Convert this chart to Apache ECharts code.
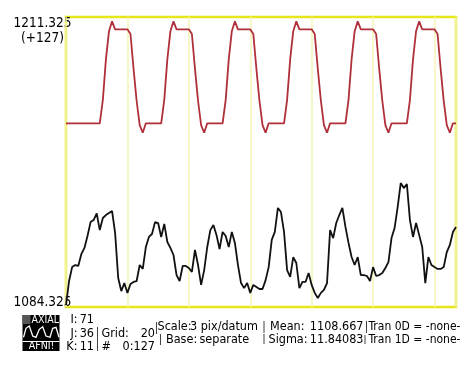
<!DOCTYPE html>
<html><head><meta charset="utf-8">
<script src="https://cdn.jsdelivr.net/npm/echarts@6/dist/echarts.min.js"></script>
<style>html,body{margin:0;padding:0;background:#fff}#c{width:474px;height:372px}</style>
</head><body><div id="c"></div>
<script>
const FONT = '"DejaVu Sans Condensed", "DejaVu Sans", sans-serif';

// voxel time series (data units), time index 0..127
const voxelValues = [
 1085.2,1095.7,1101.8,1102.7,1102.3,1107.5,1110.2,1115.4,1121.5,1122.4,
 1125.3,1118.0,1123.3,1124.6,1125.5,1126.4,1116.7,1097.0,1091.3,1094.8,
 1090.5,1094.4,1095.3,1095.7,1102.7,1101.0,1110.6,1115.0,1116.3,1121.5,
 1121.1,1115.0,1120.7,1112.8,1110.2,1107.1,1098.3,1095.7,1102.3,1102.3,
 1101.4,1099.7,1109.3,1102.7,1094.0,1100.5,1110.6,1118.0,1120.2,1115.9,
 1109.7,1117.2,1115.4,1110.6,1117.2,1112.4,1102.7,1094.8,1092.6,1094.8,
 1090.5,1094.0,1093.1,1092.2,1092.2,1096.1,1101.8,1113.7,1117.2,1127.7,
 1125.9,1117.2,1100.5,1097.5,1106.2,1103.6,1092.6,1095.3,1095.3,1099.2,
 1094.0,1090.5,1088.3,1090.5,1091.8,1094.8,1118.0,1114.5,1121.1,1124.6,
 1127.7,1119.4,1112.4,1106.2,1102.7,1106.2,1098.3,1098.3,1097.9,1095.7,
 1101.8,1097.9,1098.3,1099.2,1101.4,1104.0,1114.5,1118.9,1128.1,1138.6,
 1136.4,1138.2,1122.4,1115.0,1121.1,1115.9,1110.6,1094.8,1106.2,1102.7,
 1101.8,1101.0,1101.0,1101.8,1108.4,1111.5,1117.2,1119.4
];

// ideal (reference) response, separate baseline
const idealValues = [
 0,0,0,0,0,0,0,0,0,0,0,0,
 0.25,0.68,0.98,1.085,1,1,1,1,1,0.95,0.58,0.24,-0.02,-0.1,0,0,0,0,0,0,
 0.25,0.68,0.98,1.085,1,1,1,1,1,0.95,0.58,0.24,-0.02,-0.1,0,0,0,0,0,0,
 0.25,0.68,0.98,1.085,1,1,1,1,1,0.95,0.58,0.24,-0.02,-0.1,0,0,0,0,0,0,
 0.25,0.68,0.98,1.085,1,1,1,1,1,0.95,0.58,0.24,-0.02,-0.1,0,0,0,0,0,0,
 0.25,0.68,0.98,1.085,1,1,1,1,1,0.95,0.58,0.24,-0.02,-0.1,0,0,0,0,0,0,
 0.25,0.68,0.98,1.085,1,1,1,1,1,0.95,0.58,0.24,-0.02,-0.1,0,0
];

const yMin = 1084.325, yMax = 1211.325;
const yLabels = ['1211.325', '(+127)', '1084.325'];
const gridEvery = 20;
const lastIndex = 127;
const coordLabels = [['I:', '71'], ['J:', '36'], ['K:', '11']];
const gridInfo = [['Grid:', '20'], ['#', '0:127']];
const scaleInfo = [['Scale:', '3 pix/datum'], ['Base:', 'separate']];
const statInfo = [['Mean:', '1108.667'], ['Sigma:', '11.84083']];
const tranInfo = ['Tran 0D = -none-', 'Tran 1D = -none-'];

const voxelData = voxelValues.map((v, i) => [i, v]);
const idealData = idealValues.map((v, i) => [i, v]);

function txt(x, y, s, align, size, fill) {
  return {
    type: 'text', x: x, y: y, silent: true,
    style: { text: s, fill: fill || '#000', font: (size || 12.5) + 'px ' + FONT, textAlign: align || 'left', textVerticalAlign: 'middle' }
  };
}
function vline(x, y1, y2) {
  return { type: 'line', silent: true, shape: { x1: x, y1: y1, x2: x, y2: y2 }, style: { stroke: '#444', lineWidth: 1 } };
}

const chart = echarts.init(document.getElementById('c'), null, { renderer: 'canvas' });
const rowsA = [320, 333.3, 346.7];
const rowsB = [326.7, 340];
const g = [];
// y range labels
g.push(txt(42.5, 23, yLabels[0], 'center', 13.5));
g.push(txt(42.5, 38.5, yLabels[1], 'center', 13.5));
g.push(txt(42.5, 302, yLabels[2], 'center', 13.5));
// coordinates
coordLabels.forEach((p, k) => {
  g.push(txt(77.5, rowsA[k], p[0], 'right'));
  g.push(txt(94, rowsA[k], p[1], 'right'));
});
g.push(vline(97.5, 327, 351));
gridInfo.forEach((p, k) => {
  g.push(txt(101.5, rowsA[k + 1], p[0], 'left'));
  g.push(txt(155, rowsA[k + 1], p[1], 'right'));
});
g.push(vline(156.5, 322, 334));
g.push(vline(160.5, 334, 345));
g.push(txt(157.5, rowsB[0], scaleInfo[0][0], 'left'));
g.push(txt(190, rowsB[0], scaleInfo[0][1], 'left'));
g.push(txt(166, rowsB[1], scaleInfo[1][0], 'left'));
g.push(txt(199.5, rowsB[1], scaleInfo[1][1], 'left'));
g.push(vline(264, 321, 333));
g.push(vline(264, 334, 344));
g.push(txt(270, rowsB[0], statInfo[0][0], 'left'));
g.push(txt(363.5, rowsB[0], statInfo[0][1], 'right'));
g.push(txt(268.5, rowsB[1], statInfo[1][0], 'left'));
g.push(txt(363.5, rowsB[1], statInfo[1][1], 'right'));
g.push(vline(366.5, 321, 333));
g.push(vline(365, 335, 344));
g.push(txt(368.5, rowsB[0], tranInfo[0], 'left', 12));
g.push(txt(368.5, rowsB[1], tranInfo[1], 'left', 12));
// AFNI logo
g.push({ type: 'rect', silent: true, shape: { x: 22.5, y: 315, width: 37, height: 36 }, style: { fill: '#000' } });
g.push({ type: 'rect', silent: true, shape: { x: 22.5, y: 315, width: 8, height: 9 }, style: { fill: '#555' } });
g.push(txt(59, 319.8, 'AXIAL', 'right', 10.5, '#fff'));
g.push({ type: 'polyline', silent: true, shape: { points: [[23.5,337.3],[26,328.3],[29.3,326],[32.7,336],[36,337.3],[39.3,329.3],[42.7,326.7],[46,336],[50,337.3],[52.7,328.3],[56,327.3],[59,337.3]] }, style: { stroke: '#fff', lineWidth: 1.3, fill: null } });
g.push({ type: 'line', silent: true, shape: { x1: 22.5, y1: 341.5, x2: 59.5, y2: 341.5 }, style: { stroke: '#fff', lineWidth: 1 } });
g.push(txt(41.5, 346.5, 'AFNI!', 'center', 10.5, '#fff'));

chart.setOption({
  animation: false,
  backgroundColor: '#fff',
  grid: { left: 66, right: 18, top: 17, bottom: 65, show: true, borderColor: '#e6e61a', borderWidth: 2.5, backgroundColor: 'transparent' },
  xAxis: {
    type: 'value', min: 0, max: lastIndex, interval: gridEvery,
    axisLine: { show: false }, axisTick: { show: false }, axisLabel: { show: false },
    splitLine: { show: true, lineStyle: { color: '#f4f4b8', width: 1.5 } }
  },
  yAxis: [
    { type: 'value', min: yMin, max: yMax, show: false, splitLine: { show: false } },
    { type: 'value', min: -1.954, max: 1.131, show: false, splitLine: { show: false } }
  ],
  series: [
    { type: 'line', name: 'ideal', yAxisIndex: 1, data: idealData, showSymbol: false, symbol: 'none',
      lineStyle: { color: '#b0303a', width: 1.8 }, z: 3 },
    { type: 'line', name: 'voxel', yAxisIndex: 0, data: voxelData, showSymbol: false, symbol: 'none',
      lineStyle: { color: '#111', width: 1.8 }, z: 4 }
  ],
  graphic: g
});
</script></body></html>
